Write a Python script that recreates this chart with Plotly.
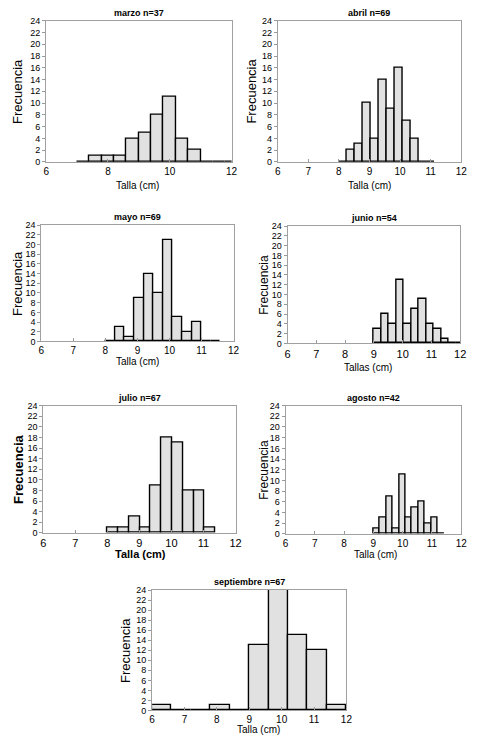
import plotly.graph_objects as go

# Histogramas de talla por mes: inicio del primer intervalo, ancho y frecuencias
meses = ["marzo", "abril", "mayo", "junio", "julio", "agosto", "septiembre"]
n_mes = [37, 69, 69, 54, 67, 42, 67]

inicio = [7.0, 8.0, 8.0, 9.0, 8.0, 9.0, 6.0]
ancho = [0.4, 0.26, 0.3, 0.26, 0.337, 0.22, 0.6]

marzo = [0, 1, 1, 1, 4, 5, 8, 11, 4, 2, 0, 0, 0]
abril = [0, 2, 3, 10, 4, 14, 9, 16, 7, 4, 0, 0]
mayo = [0, 3, 1, 9, 14, 10, 21, 5, 2, 4, 0, 0]
junio = [3, 6, 4, 13, 4, 7, 9, 4, 3, 1, 0, 0]
julio = [1, 1, 3, 1, 9, 18, 17, 8, 8, 1]
agosto = [1, 3, 7, 1, 11, 3, 5, 6, 2, 3, 0]
septiembre = [1, 0, 0, 1, 0, 13, 24, 15, 12, 1]

frecuencias = [marzo, abril, mayo, junio, julio, agosto, septiembre]

ticks_x = [[6, 8, 10, 12]] + [[6, 7, 8, 9, 10, 11, 12]] * 6
ticks_y = list(range(0, 25, 2))

titulo_x = ["Talla (cm)", "Talla (cm)", "Talla (cm)", "Tallas (cm)",
            "<b>Talla (cm)</b>", "Talla (cm)", "Talla (cm)"]
titulo_y = ["Frecuencia"] * 4 + ["<b>Frecuencia</b>"] + ["Frecuencia"] * 2

W, H = 478, 750
# cajas de cada panel en pixeles: izq, der, arriba, abajo
cajas = [
    (44, 233, 16, 159),
    (280, 467, 16, 159),
    (39, 235, 223, 341),
    (290, 466, 224, 343),
    (41, 237, 406, 535),
    (288, 467, 406, 536),
    (152, 350, 593, 715),
]
# posicion de las etiquetas de ejes
pos_ytit = [15, 253, 15, 266, 16, 266, 125]
pos_xtit = [(137, 183), (374, 183), (137, 361), (372, 367),
            (140, 556), (380, 557), (260, 734)]
tam_ytit = [13, 13, 13, 12, 13, 12, 13]
tam_xtit = [10, 10, 10, 10, 11, 10, 10]
tam_tick = [10, 10, 10, 11, 11, 10, 10]

FUENTE = "Liberation Sans, Arial, sans-serif"

fig = go.Figure()
anot = []

for i, mes in enumerate(meses):
    k = "" if i == 0 else str(i + 1)
    conteos = frecuencias[i]
    centros = [inicio[i] + ancho[i] * (j + 0.5) for j in range(len(conteos))]
    fig.add_trace(go.Bar(
        x=centros, y=conteos, width=ancho[i],
        marker=dict(color="#e1e1e1", line=dict(color="black", width=1.4)),
        xaxis="x" + k, yaxis="y" + k, showlegend=False,
        hovertemplate="%{x:.2f} cm: %{y}<extra></extra>",
    ))

    l, r, t, b = cajas[i]
    fig.layout["xaxis" + k] = dict(
        domain=[l / W, r / W], anchor="y" + k, range=[6, 12],
        tickvals=ticks_x[i], ticks="inside", ticklen=3, tickcolor="#999",
        showline=True, mirror=True, linecolor="#a0a0a0", linewidth=1,
        showgrid=False, zeroline=False, ticklabeloverflow="allow",
        tickfont=dict(size=tam_tick[i], color="black", family=FUENTE),
    )
    fig.layout["yaxis" + k] = dict(
        domain=[1 - b / H, 1 - t / H], anchor="x" + k, range=[0, 24],
        tickvals=ticks_y, ticks="outside", ticklen=3, tickcolor="#999",
        showline=True, mirror=True, linecolor="#a0a0a0", linewidth=1,
        showgrid=False, zeroline=False,
        tickfont=dict(size=9, color="black", family=FUENTE),
    )

    anot.append(dict(
        text=f"<b>{mes} n={n_mes[i]}</b>", x=(l + r) / 2 / W, y=1 - t / H,
        xref="paper", yref="paper", xanchor="center", yanchor="bottom",
        yshift=1, showarrow=False, font=dict(size=9, family=FUENTE, color="black"),
    ))
    px_, py_ = pos_xtit[i]
    anot.append(dict(
        text=titulo_x[i], x=px_ / W, y=1 - py_ / H,
        xref="paper", yref="paper", xanchor="center", yanchor="middle",
        showarrow=False, font=dict(size=tam_xtit[i], family=FUENTE, color="black"),
    ))
    anot.append(dict(
        text=titulo_y[i], x=pos_ytit[i] / W, y=1 - (t + b) / 2 / H,
        xref="paper", yref="paper", xanchor="center", yanchor="middle",
        textangle=-90, showarrow=False,
        font=dict(size=tam_ytit[i], family=FUENTE, color="black"),
    ))

fig.update_layout(
    width=W, height=H,
    margin=dict(l=0, r=0, t=0, b=0),
    paper_bgcolor="white", plot_bgcolor="white",
    bargap=0, annotations=anot,
    font=dict(family=FUENTE),
)

fig.write_html("out.html", config={"displayModeBar": False},
               post_script="document.body.style.margin='0';")
